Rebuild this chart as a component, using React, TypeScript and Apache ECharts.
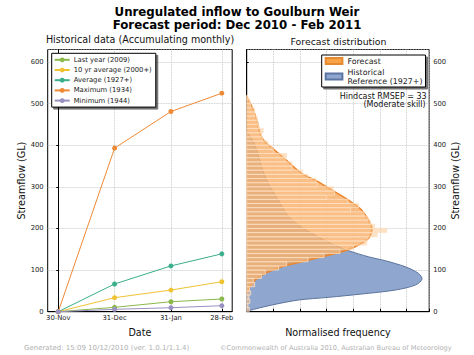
import React, { useEffect, useRef } from 'react';
import * as echarts from 'echarts';

// ---- Left panel: accumulated monthly historical flows (GL) ----
const dateLabels = ['30-Nov', '31-Dec', '31-Jan', '28-Feb'];
const dateDays = [0, 31, 62, 90];
const lastYear = [0, 10.5, 24, 30.5];
const tenYrAvg = [0, 33.7, 52, 72];
const average = [0, 66.6, 110, 139];
const maximum = [0, 393, 481, 525];
const minimum = [0, 5.7, 9.6, 14.4];

// ---- Right panel: forecast distribution ----
const histFlow = [0, 2, 16, 28, 34.5, 42.5, 52, 64, 78, 92, 108, 122.5, 132, 146.6, 162.7, 184, 208, 235, 268, 308, 348, 388, 416, 430];
const histDens = [0, 0.05, 0.94, 1.94, 3.07, 4.32, 5.57, 6.33, 6.58, 6.45, 5.95, 5.2, 4.57, 3.82, 3.2, 2.57, 1.94, 1.5, 1.19, 0.81, 0.56, 0.38, 0.19, 0];
const fcFlow = [45, 48, 60, 76, 92, 108, 120, 132, 144, 156, 176, 196, 212, 244, 268, 292, 316, 332, 360, 388, 408, 429, 461, 493, 517];
const fcDens = [0, 0.02, 0.12, 0.31, 0.69, 1.32, 2.07, 2.82, 3.57, 4.07, 4.57, 4.7, 4.64, 4.32, 3.82, 3.2, 2.57, 2.07, 1.56, 1.06, 0.69, 0.5, 0.38, 0.19, 0];
const binCenters = [5, 15, 25, 35, 45, 55, 65, 75, 85, 95, 105, 115, 125, 135, 145, 155, 165, 175, 185, 195, 205, 215, 225, 235, 245, 255, 265, 275, 285, 295, 305, 315, 325, 335, 345, 355, 365, 375, 385, 395, 405, 415, 425, 435, 445, 455, 465, 475, 485, 495, 505, 515];
const binHeights = [0.1, 0.05, 0.12, 0.08, 0.15, 0.1, 0.3, 0.25, 0.55, 0.7, 1.2, 1.5, 2.3, 2.9, 3.5, 4.0, 4.5, 4.55, 4.9, 5.26, 4.8, 4.65, 4.55, 4.4, 3.9, 4.2, 3.8, 3.0, 3.3, 3.25, 2.65, 2.6, 2.3, 2.1, 1.7, 1.7, 1.45, 1.5, 1.0, 0.95, 0.8, 0.6, 0.55, 0.62, 0.45, 0.4, 0.38, 0.3, 0.3, 0.15, 0.12, 0.05];
const binWidth = 10;

const FONT = 'DejaVu Sans';

function areaSeries(name: string, dens: number[], flow: number[], z: number, fill: string, stroke: string, lw: number, legendColor: string, legendBorder: string) {
  return {
    type: 'custom',
    name,
    xAxisIndex: 1,
    yAxisIndex: 1,
    z,
    clip: true,
    itemStyle: { color: legendColor, borderColor: legendBorder, borderWidth: 1 },
    data: dens.map((d, i) => [d, flow[i]]),
    renderItem: (params: any, api: any) => {
      if (params.dataIndex !== 0) return null;
      const pts = dens.map((d, i) => api.coord([d, flow[i]]));
      return {
        type: 'group',
        children: [
          { type: 'polygon', shape: { points: pts, smooth: 0.3 }, style: { fill, stroke: 'none' } },
          { type: 'polyline', shape: { points: pts, smooth: 0.3 }, style: { fill: 'none', stroke, lineWidth: lw } },
        ],
      };
    },
  };
}

export default function App() {
  const ref = useRef<HTMLDivElement>(null);
  useEffect(() => {
    if (!ref.current) return;
    const chart = echarts.init(ref.current, undefined, { renderer: 'svg' });
    const lineSeries = (name: string, vals: number[], color: string) => ({
      type: 'line',
      name,
      xAxisIndex: 0,
      yAxisIndex: 0,
      data: vals.map((v, i) => [dateDays[i], v]),
      symbol: 'circle',
      symbolSize: 5,
      lineStyle: { width: 1, color },
      itemStyle: { color },
      z: 3,
    });
    const gridStyle = { show: true, lineStyle: { type: 'dotted', color: '#bdbdbd', width: 0.8 } };
    const nameStyle = { fontSize: 9.6, color: '#111', fontFamily: FONT };
    chart.setOption({
      animation: false,
      textStyle: { fontFamily: FONT },
      grid: [
        { left: 47.7, top: 49.5, width: 184.5, height: 262.2, show: true, borderColor: '#000', borderWidth: 1 },
        { left: 246.7, top: 49.5, width: 182.5, height: 262.2, show: true, borderColor: '#000', borderWidth: 1 },
      ],
      xAxis: [
        {
          type: 'value', gridIndex: 0, min: -5.8, max: 95.7,
          name: 'Date', nameLocation: 'middle', nameGap: 16, nameTextStyle: nameStyle,
          axisLine: { lineStyle: { color: '#000' } },
          axisTick: { inside: true, length: 3, customValues: dateDays, lineStyle: { color: '#000' } },
          axisLabel: {
            customValues: dateDays, fontSize: 6.8, color: '#222', margin: 3, fontFamily: FONT,
            formatter: (v: number) => { const i = dateDays.indexOf(v); return i >= 0 ? dateLabels[i] : ''; },
          },
          splitLine: gridStyle,
        },
        {
          type: 'value', gridIndex: 1, min: 0, max: 6.85, interval: 1,
          name: 'Normalised frequency', nameLocation: 'middle', nameGap: 16, nameTextStyle: nameStyle,
          axisLine: { lineStyle: { color: '#000' } },
          axisTick: { inside: true, length: 3, lineStyle: { color: '#000' } },
          axisLabel: { show: false },
          splitLine: gridStyle,
        },
      ],
      yAxis: [
        {
          type: 'value', gridIndex: 0, min: 0, max: 630, interval: 100,
          name: 'Streamflow (GL)', nameLocation: 'middle', nameGap: 17.5, nameRotate: 90, nameTextStyle: nameStyle,
          axisLine: { show: true, lineStyle: { color: '#000' } },
          axisTick: { show: true, inside: false, length: 2, lineStyle: { color: '#000' } },
          axisLabel: { fontSize: 6.8, color: '#222', margin: 4, showMaxLabel: false, fontFamily: FONT },
          splitLine: gridStyle,
        },
        {
          type: 'value', gridIndex: 1, position: 'right', min: 0, max: 630, interval: 100,
          name: 'Streamflow (GL)', nameLocation: 'middle', nameGap: 21, nameRotate: 90, nameTextStyle: nameStyle,
          axisLine: { show: true, lineStyle: { color: '#000' } },
          axisTick: { show: true, inside: false, length: 2, lineStyle: { color: '#000' } },
          axisLabel: { fontSize: 6.8, color: '#222', margin: 4, showMaxLabel: false, fontFamily: FONT },
          splitLine: gridStyle,
        },
      ],
      legend: [
        {
          data: ['Last year (2009)', '10 yr average (2000+)', 'Average (1927+)', 'Maximum (1934)', 'Minimum (1944)'],
          orient: 'vertical', left: 51.7, top: 53.3,
          padding: [2, 4, 2, 2], itemGap: 1.2, itemWidth: 15, itemHeight: 6,
          backgroundColor: '#fff', borderColor: '#000', borderWidth: 1, borderRadius: 0,
          shadowColor: 'rgba(0,0,0,0.55)', shadowOffsetX: 2, shadowOffsetY: 2, shadowBlur: 0,
          textStyle: { fontSize: 6.8, color: '#222', lineHeight: 9, padding: [0, 0, 0, -1], fontFamily: FONT },
        },
        {
          data: ['Forecast', 'Historical\nReference (1927+)'],
          orient: 'vertical', left: 321.7, top: 55,
          padding: [1.5, 3, 1.5, 3], itemGap: 2, itemWidth: 16.7, itemHeight: 6, icon: 'rect',
          backgroundColor: '#fff', borderColor: '#000', borderWidth: 1, borderRadius: 0,
          shadowColor: 'rgba(0,0,0,0.55)', shadowOffsetX: 2, shadowOffsetY: 2, shadowBlur: 0,
          textStyle: { fontSize: 7.9, color: '#222', lineHeight: 9, fontFamily: FONT },
        },
      ],
      graphic: [
        { type: 'text', x: 237, y: 11.7, style: { text: 'Unregulated inflow to Goulburn Weir', font: `bold 11.8px "${FONT}"`, fill: '#000', align: 'center', verticalAlign: 'middle' } },
        { type: 'text', x: 237, y: 24.5, style: { text: 'Forecast period: Dec 2010 - Feb 2011', font: `bold 11.8px "${FONT}"`, fill: '#000', align: 'center', verticalAlign: 'middle' } },
        { type: 'text', x: 140, y: 39.3, style: { text: 'Historical data (Accumulating monthly)', font: `9.6px "${FONT}"`, fill: '#111', align: 'center', verticalAlign: 'middle' } },
        { type: 'text', x: 338.5, y: 41.7, style: { text: 'Forecast distribution', font: `9.4px "${FONT}"`, fill: '#111', align: 'center', verticalAlign: 'middle' } },
        { type: 'text', x: 426.7, y: 96.7, z: 10, style: { text: 'Hindcast RMSEP = 33', font: `8px "${FONT}"`, fill: '#111', align: 'right', verticalAlign: 'middle' } },
        { type: 'text', x: 425.7, y: 104.3, z: 10, style: { text: '(Moderate skill)', font: `8px "${FONT}"`, fill: '#111', align: 'right', verticalAlign: 'middle' } },
        { type: 'text', x: 24, y: 348.3, style: { text: 'Generated: 15:09 10/12/2010 (ver. 1.0.1/1.1.4)', font: `7px "${FONT}"`, fill: '#b0b0b0', verticalAlign: 'middle' } },
        { type: 'text', x: 220, y: 348.3, style: { text: '\u00A9Commonwealth of Australia 2010, Australian Bureau of Meteorology', font: `6.6px "${FONT}"`, fill: '#b0b0b0', verticalAlign: 'middle' } },
      ],
      series: [
        lineSeries('Last year (2009)', lastYear, '#8AB84A'),
        lineSeries('10 yr average (2000+)', tenYrAvg, '#F0C232'),
        lineSeries('Average (1927+)', average, '#3BAE8C'),
        lineSeries('Maximum (1934)', maximum, '#EE8A36'),
        lineSeries('Minimum (1944)', minimum, '#9A90C2'),
        areaSeries('Historical\nReference (1927+)', histDens, histFlow, 2, '#8FA7CE', '#5B739C', 1, '#8FA7CE', '#5A75A3'),
        areaSeries('Forecast', fcDens, fcFlow, 3, 'rgba(245,152,62,0.66)', '#EC862C', 1.5, '#F9A346', '#E58A30'),
        {
          type: 'custom',
          name: 'Forecast histogram',
          xAxisIndex: 1,
          yAxisIndex: 1,
          z: 4,
          clip: true,
          data: binCenters.map((c, i) => [binHeights[i], c]),
          renderItem: (params: any, api: any) => {
            const len = api.value(0);
            const c = api.value(1);
            const p0 = api.coord([0, c + binWidth / 2]);
            const p1 = api.coord([len, c - binWidth / 2]);
            return {
              type: 'rect',
              shape: { x: p0[0], y: p0[1], width: p1[0] - p0[0], height: p1[1] - p0[1] },
              style: { fill: 'rgba(252,196,140,0.5)', stroke: 'rgba(255,226,196,0.95)', lineWidth: 0.8 },
            };
          },
        },
      ],
    });
    return () => chart.dispose();
  }, []);
  return <div ref={ref} style={{ position: 'absolute', left: 0, top: 0, width: 474, height: 355 }} />;
}
